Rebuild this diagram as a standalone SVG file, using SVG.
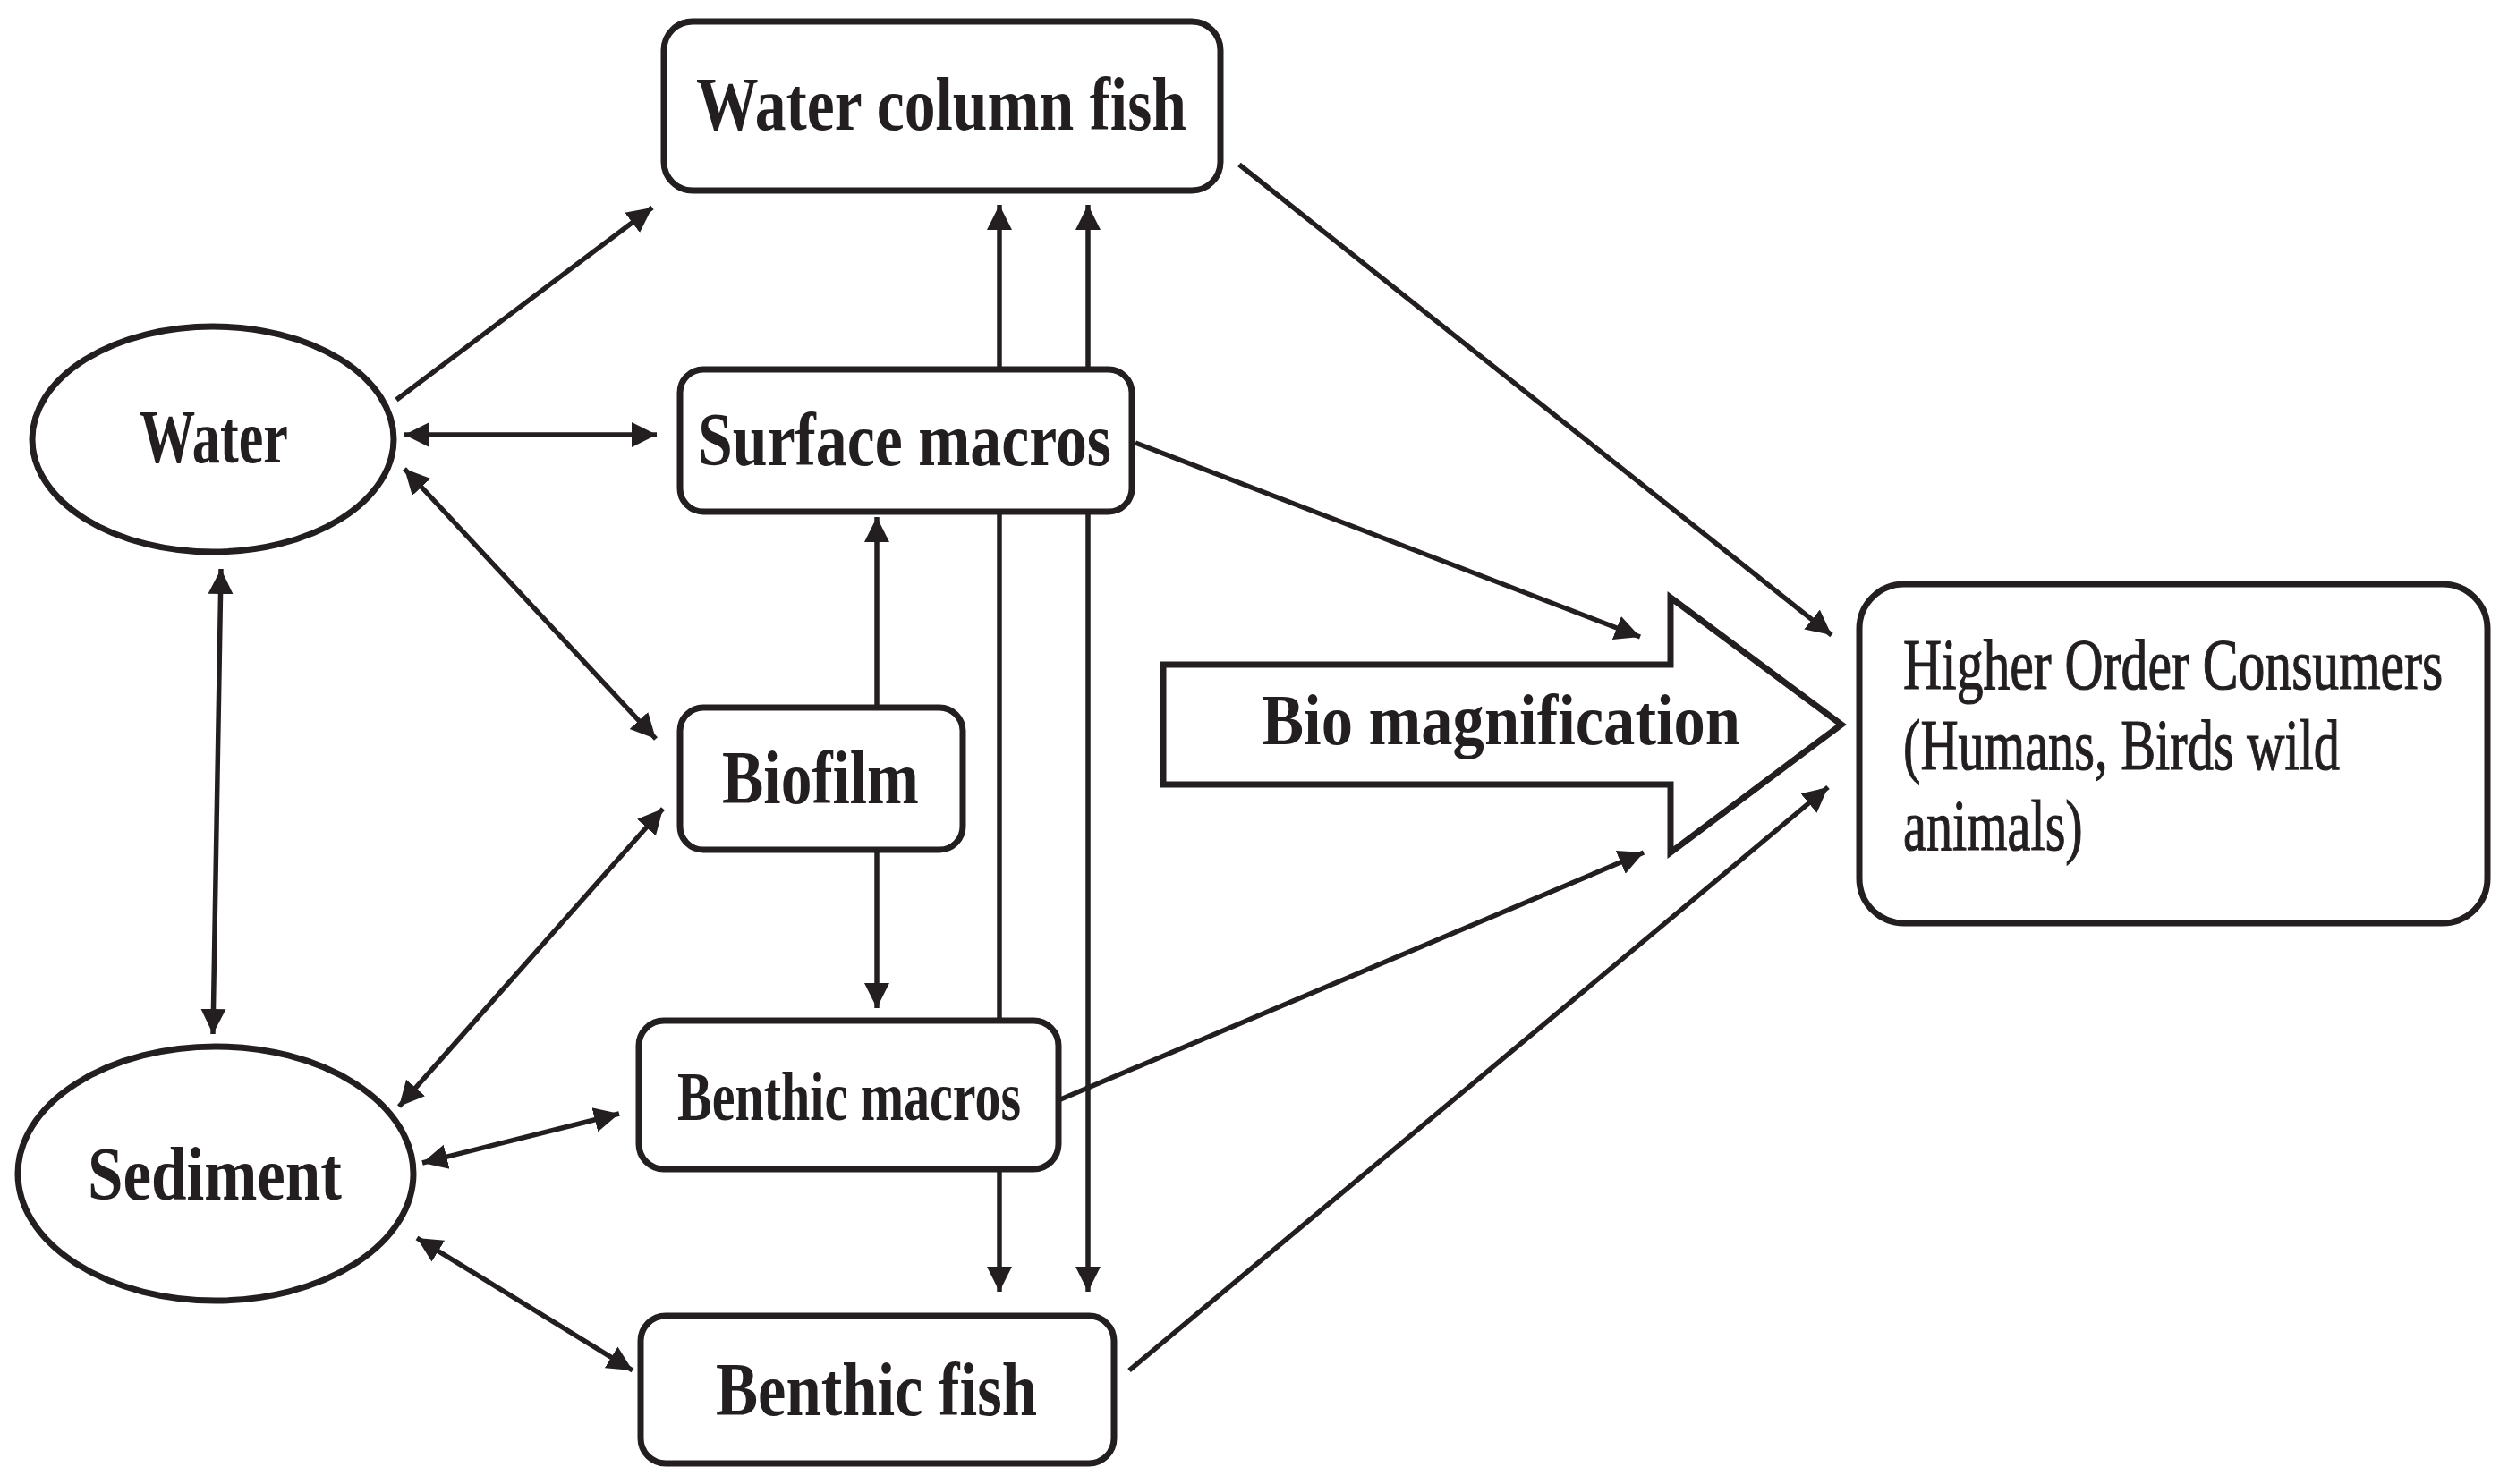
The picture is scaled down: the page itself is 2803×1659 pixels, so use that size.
<svg xmlns="http://www.w3.org/2000/svg" width="2803" height="1659" viewBox="0 0 2803 1659">
<style>
.box{fill:#fff;stroke:#231f20;stroke-width:7}
.lbl{font-family:"Liberation Serif","Times New Roman",serif;font-weight:bold;fill:#231f20;font-size:84px}
.reg{font-family:"Liberation Serif","Times New Roman",serif;font-weight:normal;fill:#231f20;font-size:80px;stroke:#231f20;stroke-width:1.2}
.con line{stroke:#231f20;stroke-width:5.5;fill:none}
.one{marker-end:url(#ah)}
.two{marker-start:url(#ah);marker-end:url(#ah)}
</style>
<defs>
<marker id="ah" markerUnits="userSpaceOnUse" markerWidth="30" markerHeight="30" refX="28" refY="14" orient="auto-start-reverse" viewBox="0 0 30 28">
<path d="M0,0 L28,14 L0,28 z" fill="#231f20"/>
</marker>
</defs>
<rect width="2803" height="1659" fill="#fff"/>
<g id="connectors" class="con">
<line class="one" x1="443" y1="447" x2="729" y2="232"/>
<line class="two" x1="452" y1="486" x2="734" y2="486"/>
<line class="two" x1="452" y1="524" x2="733" y2="826"/>
<line class="two" x1="247" y1="636" x2="238" y2="1156"/>
<line class="two" x1="741" y1="904" x2="446" y2="1237"/>
<line class="two" x1="472" y1="1300" x2="692" y2="1245"/>
<line class="two" x1="466" y1="1384" x2="707" y2="1532"/>
<line class="one" x1="980" y1="790" x2="980" y2="578"/>
<line class="one" x1="980" y1="951" x2="980" y2="1127"/>
<line class="one" x1="1117" y1="1140" x2="1117" y2="229"/>
<line class="one" x1="1117" y1="1308" x2="1117" y2="1444"/>
<line class="two" x1="1216" y1="229" x2="1216" y2="1444"/>
<line class="one" x1="1385" y1="184" x2="2047" y2="710"/>
<line class="one" x1="1269" y1="495" x2="1833" y2="712"/>
<line class="one" x1="1183" y1="1230" x2="1837" y2="953"/>
<line class="one" x1="1262" y1="1532" x2="2043" y2="880"/>
</g>
<g id="water-column-fish">
<rect class="box" x="742" y="24" width="622" height="189" rx="32"/>
<text class="lbl" x="778" y="145" textLength="548" lengthAdjust="spacingAndGlyphs">Water column fish</text>
</g>
<g id="water">
<ellipse class="box" cx="238" cy="491" rx="202" ry="126"/>
<text class="lbl" x="156" y="517" textLength="166" lengthAdjust="spacingAndGlyphs">Water</text>
</g>
<g id="surface-macros">
<rect class="box" x="760" y="413" width="505" height="159" rx="26"/>
<text class="lbl" x="780" y="520" textLength="462" lengthAdjust="spacingAndGlyphs">Surface macros</text>
</g>
<g id="biofilm">
<rect class="box" x="760" y="791" width="316" height="159" rx="26"/>
<text class="lbl" x="807" y="898" textLength="220" lengthAdjust="spacingAndGlyphs">Biofilm</text>
</g>
<g id="benthic-macros">
<rect class="box" x="714" y="1141" width="469" height="166" rx="28"/>
<text class="lbl" x="757" y="1252" style="font-size:78px" textLength="384" lengthAdjust="spacingAndGlyphs">Benthic macros</text>
</g>
<g id="sediment">
<ellipse class="box" cx="241" cy="1312" rx="221" ry="142"/>
<text class="lbl" x="98" y="1341" textLength="284" lengthAdjust="spacingAndGlyphs">Sediment</text>
</g>
<g id="benthic-fish">
<rect class="box" x="716" y="1471" width="529" height="165" rx="28"/>
<text class="lbl" x="800" y="1582" textLength="359" lengthAdjust="spacingAndGlyphs">Benthic fish</text>
</g>
<g id="bio-magnification">
<polygon class="box" points="1300,743 1867,743 1867,668 2058,810 1867,953 1867,877 1300,877" stroke-linejoin="miter"/>
<text class="lbl" x="1410" y="832" style="font-size:80px" textLength="535" lengthAdjust="spacingAndGlyphs">Bio magnification</text>
</g>
<g id="higher-order-consumers">
<rect class="box" x="2078" y="653" width="702" height="379" rx="50"/>
<text class="reg" transform="matrix(0.8 0 0 1 2127 770)" x="0" y="0" textLength="754" lengthAdjust="spacingAndGlyphs">Higher Order Consumers</text>
<text class="reg" transform="matrix(0.8 0 0 1 2127 860)" x="0" y="0" textLength="610" lengthAdjust="spacingAndGlyphs">(Humans, Birds wild</text>
<text class="reg" transform="matrix(0.8 0 0 1 2127 950)" x="0" y="0" textLength="251" lengthAdjust="spacingAndGlyphs">animals)</text>
</g>
</svg>
